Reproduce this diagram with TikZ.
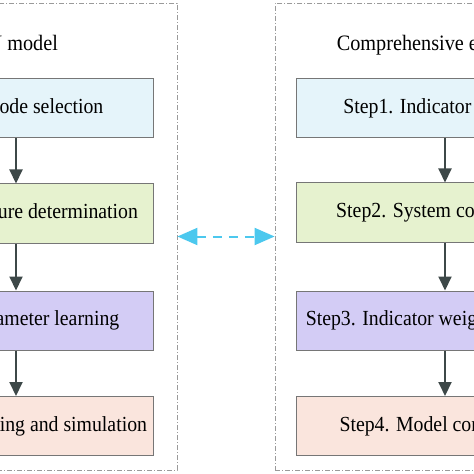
\documentclass[tikz,border=0pt]{standalone}
\usepackage{fontspec}
\setmainfont{Liberation Serif}
\newfontfamily\condfont[FakeStretch=0.92]{Liberation Serif}
\usetikzlibrary{arrows.meta}
\definecolor{cA}{HTML}{E5F4FA}
\definecolor{cB}{HTML}{E6F2CF}
\definecolor{cC}{HTML}{D3CCF5}
\definecolor{cD}{HTML}{FAE5DD}
\definecolor{bord}{HTML}{767676}
\definecolor{arr}{HTML}{3D4848}
\definecolor{cyanarr}{HTML}{4CC8EE}
\definecolor{frm}{HTML}{9A9A9A}
\tikzset{
  stepbox/.style={draw=bord, line width=1bp, inner sep=0pt,
    font=\condfont\fontsize{21.5bp}{25bp}\selectfont},
  lbox/.style={stepbox, minimum width=274bp, minimum height=59bp},
  rbox/.style={stepbox, minimum width=298bp, minimum height=59bp},
  framebox/.style={draw=frm, line width=0.8bp,
    dash pattern=on 5bp off 2bp on 1bp off 2bp, inner sep=0pt},
  flow/.style={draw=arr, line width=2bp, -{Triangle[length=14bp,width=13bp]}},
  link/.style={draw=cyanarr, line width=2bp, dash pattern=on 9bp off 7bp,
    {Triangle[length=20bp,width=17bp]}-{Triangle[length=20bp,width=17bp]}},
  title/.style={font=\condfont\fontsize{22bp}{26bp}\selectfont, anchor=base}
}
\begin{document}
\begin{tikzpicture}[x=1bp,y=-1bp]
\useasboundingbox (0,0) rectangle (474,474);
\clip (0,0) rectangle (474,474);
% frames
\node[framebox, minimum width=330bp, minimum height=467bp] (lf) at (12,236.5) {};
\node[framebox, minimum width=330bp, minimum height=467bp] (rf) at (440,236.5) {};
% titles
\node[title] (lt) at (16,51) {BN model};
\node[title] (rt) at (445,51) {Comprehensive evaluation};
% left boxes
\node[lbox, fill=cA] (l1) at (16,108.5) {Step1. Node selection};
\node[lbox, fill=cB] (l2) at (16,213.5) {Step2. Structure determination};
\node[lbox, fill=cC] (l3) at (16,320.5) {Step3. Parameter learning};
\node[lbox, fill=cD] (l4) at (16,426) {Step4. Reasoning and simulation};
% right boxes
\node[rbox, fill=cA] (r1) at (445,108.5) {Step1. Indicator selection};
\node[rbox, fill=cB] (r2) at (445,212.5) {Step2. System construction};
\node[rbox, fill=cC] (r3) at (445,320.5) {Step3. Indicator weight calculation};
\node[rbox, fill=cD] (r4) at (445,426) {Step4. Model construction};
% flow arrows
\draw[flow] (l1) -- (l2);
\draw[flow] (l2) -- (l3);
\draw[flow] (l3) -- (l4);
\draw[flow] (r1) -- (r2);
\draw[flow] (r2) -- (r3);
\draw[flow] (r3) -- (r4);
% link
\draw[link] (lf.east) -- (rf.west);
\end{tikzpicture}
\end{document}
